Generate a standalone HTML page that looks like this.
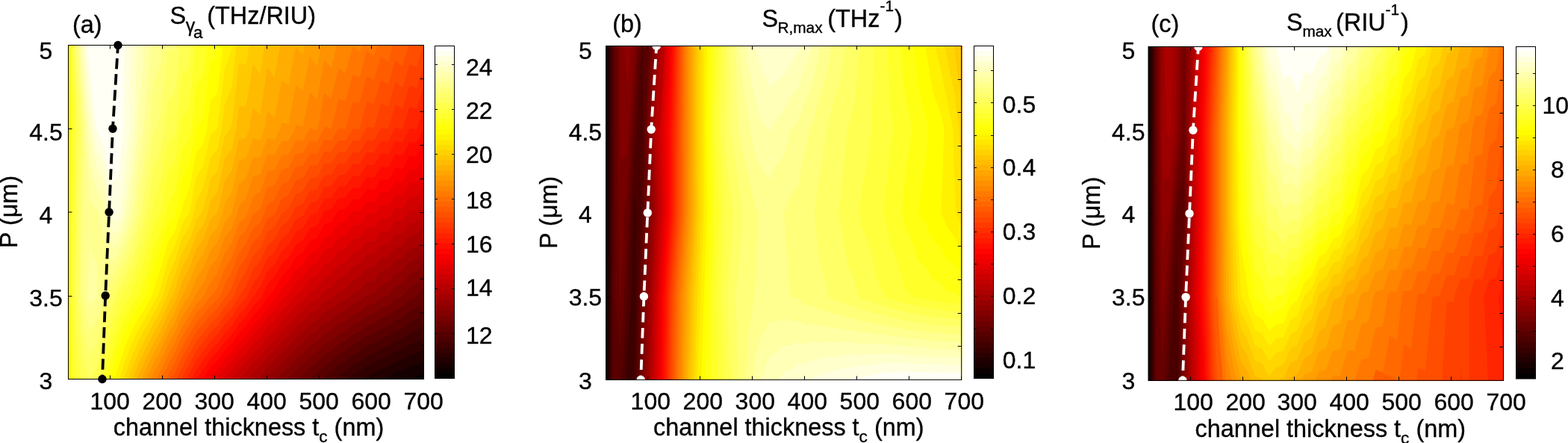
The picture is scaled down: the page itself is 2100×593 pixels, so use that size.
<!DOCTYPE html>
<html lang="en"><head><meta charset="utf-8"><title>Sensitivity maps</title>
<style>html,body{margin:0;padding:0;background:#fff}body{width:2100px;height:593px;overflow:hidden}svg{display:block}text{font-family:"Liberation Sans",Arial,Helvetica,sans-serif;font-size:32.4px;fill:#000;stroke:#000;stroke-width:0.35}</style></head><body>
<svg width="2100" height="593" viewBox="0 0 2100 593">
<defs>
<clipPath id="cla"><rect x="91.0" y="60.0" width="477.0" height="448.0"/></clipPath>
<clipPath id="clb"><rect x="811.2" y="61.0" width="477.0" height="447.9"/></clipPath>
<clipPath id="clc"><rect x="1537.7" y="62.0" width="476.3" height="447.8"/></clipPath>
</defs>
<rect width="2100" height="593" fill="#fff"/>
<g fill-rule="evenodd">
<rect x="91" y="60" width="477" height="448" fill="#070000"/>
<path fill="#140000" d="M91 508L543.8 508L548.5 505.5L558 503.9L568 499.1L568 60L91 60Z"/>
<path fill="#220000" d="M91 508L508.8 508L510.4 507L519.9 504.3L529.4 498.5L538.9 496.3L548.5 490.6L558 488.5L568 482.8L568 60L91 60Z"/>
<path fill="#300000" d="M91 508L484.3 508L491.3 502.9L500.9 499.4L510.4 493.5L519.9 490.7L529.4 484.5L538.9 482.1L548.5 475.8L558 473.2L568 466.4L568 60L91 60Z"/>
<path fill="#3d0000" d="M91 508L464.7 508L472.3 501.6L481.8 496.6L491.3 489.5L500.9 486.1L510.4 479.9L519.9 477.1L529.4 470.4L538.9 467.9L548.5 460.9L558 457.9L568 450L568 60L91 60Z"/>
<path fill="#4b0000" d="M91 508L446.9 508L453.3 502L462.8 496.2L472.3 488.2L481.8 483.4L491.3 476.1L500.9 472.9L510.4 466.4L519.9 463.5L529.4 456.4L538.9 453.6L548.5 446L558 442.6L568 433.7L568 60L91 60Z"/>
<path fill="#580000" d="M91 508L429.7 508L434.2 503.3L443.7 497.2L453.3 488.3L462.8 482.8L472.3 474.8L481.8 470.2L491.3 462.8L500.9 459.6L510.4 452.8L519.9 450L529.4 442.4L538.9 439.4L548.5 431.1L558 427.2L568 417.3L568 60L91 60Z"/>
<path fill="#660000" d="M91 508L413 508L415.2 505.7L424.7 499.1L434.2 489.2L443.7 483.4L453.3 474.6L462.8 469.4L472.3 461.4L481.8 457L491.3 449.4L500.9 446.3L510.4 439.3L519.9 436.4L529.4 428.3L538.9 425.2L548.5 416.2L558 411.9L568 400.9L568 60L91 60Z"/>
<path fill="#740000" d="M91 508L397.6 508L405.7 501.5L415.2 491.4L424.7 485.1L434.2 475.1L443.7 469.7L453.3 460.9L462.8 456.1L472.3 448L481.8 443.8L491.3 436.1L500.9 433L510.4 425.7L519.9 422.8L529.4 414.3L538.9 411L548.5 401.3L558 396.6L558.7 395.8L568 384.2L568 60L91 60Z"/>
<path fill="#810000" d="M91 508L383.8 508L386.6 505.6L396.1 494.9L405.7 487.3L415.2 477.1L424.7 471.1L434.2 461L443.7 455.9L453.3 447.2L462.8 442.7L472.3 434.6L481.8 430.6L491.3 422.7L500.9 419.8L510.4 412.2L519.9 409.2L529.4 400.2L538.9 396.8L539.9 395.8L548.5 384.9L558 380.2L568 367.4L568 60L91 60Z"/>
<path fill="#8f0000" d="M91 508L369.9 508L377.1 499.8L386.6 491.6L396.1 480.6L405.7 473.1L415.2 462.8L424.7 457.1L434.2 446.9L443.7 442.2L453.3 433.5L462.8 429.3L472.3 421.2L481.8 417.4L491.3 409.4L500.9 406.5L510.4 398.6L519.6 395.7L519.9 395.6L529.4 383.8L538.9 380.2L548.5 367.8L558 363.6L568 350.6L568 60L91 60Z"/>
<path fill="#9c0000" d="M91 508L355.7 508L358.1 505.1L367.6 497L377.1 485.9L386.6 477.6L396.1 466.3L405.7 458.9L415.2 448.5L424.7 443L434.2 432.8L443.7 428.4L453.3 419.8L462.8 415.9L472.3 407.8L481.8 404.2L491.3 396L492.2 395.8L500.9 392.4L510.4 381.6L519.9 378.5L529.4 366.2L538.9 363.3L548.5 350.6L558 347.1L568 333.8L568 60L91 60Z"/>
<path fill="#aa0000" d="M91 508L343.3 508L348.5 503.4L358.1 491.7L367.6 483.5L377.1 472L386.6 463.6L396.1 452L405.7 444.7L415.2 434.2L424.7 429L434.2 418.7L443.7 414.7L453.3 406L462.8 402.5L470.7 395.8L472.3 393.9L481.8 389.3L491.3 377.8L500.9 374.9L510.4 363.7L519.9 361.3L529.4 348.6L538.9 346.5L548.5 333.4L558 330.6L568 316.9L568 60L91 60Z"/>
<path fill="#b80000" d="M91 508L331.4 508L339 499L348.5 490.5L358.1 478.3L367.6 469.9L377.1 458.1L386.6 449.7L396.1 437.7L405.7 430.5L415.2 419.8L424.7 415L434.2 404.6L443.7 400.9L449.5 395.8L453.3 391.2L462.8 386.8L472.3 375.4L481.8 371.5L491.3 359.5L500.9 357.3L510.4 345.8L519.9 344.1L529.4 331L538.9 329.7L548.5 316.2L558 314.1L568 300.1L568 60L91 60Z"/>
<path fill="#c50000" d="M91 508L319.1 508L320 506.9L329.5 497.8L339 486.3L348.5 477.5L358.1 464.8L367.6 456.4L377.1 444.2L386.6 435.7L396.1 423.4L405.7 416.3L415.2 405.5L424.7 401L429.5 395.8L434.2 389.1L443.7 384.8L453.3 372.7L462.8 368.8L472.3 356.9L481.8 353.7L491.3 341.3L500.9 339.8L510.4 327.9L519.9 327L529.4 313.3L538.9 312.8L548.5 299L558 297.6L567.5 284L568 283.2L568 60L91 60Z"/>
<path fill="#d30000" d="M91 508L309.3 508L310.5 506.8L320 494.7L329.5 485.5L339 473.5L348.5 464.6L358.1 451.4L367.6 442.9L377.1 430.3L386.6 421.7L396.1 409.1L405.7 402.2L411.3 395.8L415.2 390.4L424.7 385.3L434.2 371.4L443.7 367.3L453.3 354.3L462.8 350.8L472.3 338.4L481.8 335.8L491.3 323L500.9 322.2L510.4 310L519.9 309.8L529.4 295.7L538.9 296L547 284L548.5 281.7L558 280.9L568 264.5L568 60L91 60Z"/>
<path fill="#e00000" d="M91 508L298.4 508L300.9 504.6L310.5 495L320 482.5L329.5 473.2L339 460.8L348.5 451.7L358.1 438L367.6 429.4L377.1 416.4L386.6 407.7L395.4 395.8L396.1 394.6L405.7 386.8L415.2 373.4L424.7 368.6L434.2 353.6L443.7 349.7L453.3 335.9L462.8 332.8L472.3 319.8L481.8 318L491.3 304.7L500.9 304.7L510.4 292.1L519.9 292.6L525.6 284L529.4 278L538.9 279L548.5 263.4L558 262.9L568 245.9L568 60L91 60Z"/>
<path fill="#ee0000" d="M91 508L289 508L291.4 505.4L300.9 492.9L310.5 483.2L320 470.3L329.5 460.9L339 448.1L348.5 438.8L358.1 424.5L367.6 415.8L377.1 402.5L384.4 395.8L386.6 393.4L396.1 377.9L405.7 370.5L415.2 356.5L424.7 351.9L434.2 335.8L443.7 332.1L453.3 317.5L462.8 314.8L472.3 301.3L481.8 300.2L491.3 286.5L500.9 287.2L503.2 284L510.4 274.5L519.9 275.4L529.4 260.2L538.9 261.4L548.5 245.2L558 244.8L568 227.2L568 60L91 60Z"/>
<path fill="#fc0000" d="M91 508L279.1 508L281.9 504L291.4 493.8L300.9 481.2L310.5 471.4L320 458.1L329.5 448.5L339 435.3L348.5 425.9L358.1 411.1L367.6 402.3L372.2 395.8L377.1 387L386.6 377.1L396.1 361.2L405.7 354.2L415.2 339.5L424.7 335.2L434.2 318.1L443.7 314.6L453.3 299.1L462.8 296.8L471.5 284L472.3 283L481.8 282.5L491.3 269.8L500.9 270.5L510.4 257.3L519.9 258.3L529.4 242.3L538.9 243.8L548.5 226.9L558 226.8L568 208.6L568 60L91 60Z"/>
<path fill="#ff0a00" d="M91 508L271 508L272.4 506L281.9 492.1L291.4 482.2L300.9 469.4L310.5 459.6L320 445.9L329.5 436.2L339 422.6L348.5 413L358.1 397.7L360.1 395.8L367.6 387.2L377.1 370.1L386.6 360.8L396.1 344.5L405.7 337.9L415.2 322.6L424.7 318.5L434.2 300.3L443.7 297L451.4 284L453.3 281.2L462.8 279.6L472.3 267.3L481.8 266.8L491.3 253.3L500.9 254L510.4 240L519.9 241.1L529.4 224.5L538.9 226.2L548.5 208.6L558 208.8L568 189.9L568 60L91 60Z"/>
<path fill="#ff1800" d="M91 508L262.6 508L262.9 507.6L272.4 493.9L281.9 480.2L291.4 470.7L300.9 457.7L310.5 447.8L320 433.7L329.5 423.9L339 409.9L348.5 400.1L351.2 395.8L358.1 380.8L367.6 370.5L377.1 353.3L386.6 344.5L396.1 327.7L405.7 321.6L415.2 305.6L424.7 301.8L433.5 284L434.2 282.7L443.7 280L453.3 265.7L462.8 264.3L472.3 251.5L481.8 251L491.3 236.9L500.9 237.5L510.4 222.8L519.9 224L529.4 206.6L538.9 208.6L548.5 190.4L558 190.8L567.5 172.2L568 170.8L568 60L91 60Z"/>
<path fill="#ff2500" d="M91 508L256.2 508L262.9 494.9L272.4 481.9L281.9 468.3L291.4 459.1L300.9 446L310.5 436.1L320 421.5L329.5 411.6L339 397.1L340.4 395.8L348.5 384.3L358.1 363.3L367.6 353.9L377.1 336.4L386.6 328.1L396.1 311L405.7 305.2L415.2 288.6L424.7 285.1L425.2 284L434.2 266.7L443.7 264.7L453.3 250.2L462.8 249L472.3 235.8L481.8 235.3L491.3 220.4L500.9 221L510.4 205.5L519.9 206.8L529.4 188.8L538.9 190.9L548.4 172.2L548.5 172.1L550.2 172.2L558 172.8L558.3 172.2L568 142.7L568 60L91 60Z"/>
<path fill="#ff3300" d="M91 508L249.4 508L253.3 500.8L262.9 482.2L272.4 469.8L281.9 456.5L291.4 447.5L300.9 434.2L310.5 424.3L320 409.3L329.5 399.3L331.8 395.8L339 379.3L348.5 367L358.1 345.9L367.6 337.2L377.1 319.5L386.6 311.8L396.1 294.3L405.7 288.9L408.5 284L415.2 271.9L424.7 269.2L434.2 250.8L443.7 249.3L453.3 234.6L462.8 233.7L472.3 220L481.8 219.6L491.3 204L500.9 204.5L510.4 188.3L519.9 189.7L528.8 172.2L529.4 170L534.7 172.2L538.9 173.3L539.5 172.2L548.5 143.4L558 145.4L568 114.6L568 60L91 60Z"/>
<path fill="#ff4100" d="M91 508L242.5 508L243.8 505.1L253.3 487.7L262.9 469.6L272.4 457.7L281.9 444.6L291.4 436L300.9 422.5L310.5 412.5L320 397.1L321.3 395.8L329.5 382.5L339 360.8L348.5 349.8L358.1 328.4L367.6 320.6L377.1 302.6L386.6 295.5L392.8 284L396.1 277.2L405.7 272.3L415.2 255.2L424.7 253.3L434.2 234.8L443.7 234L453.3 219.1L462.8 218.4L472.3 204.3L481.8 203.8L491.3 187.5L500.9 188L509.7 172.2L510.4 170.1L518.2 172.2L519.9 172.5L520 172.2L529.4 140.1L538.9 145.6L548.5 114.7L558 117.8L568 86.5L568 60L91 60Z"/>
<path fill="#ff4e00" d="M91 508L236.3 508L243.8 491.5L253.3 474.6L262.9 456.9L272.4 445.7L281.9 432.7L291.4 424.4L300.9 410.8L310.5 400.7L313.5 395.8L320 378.1L329.5 363.9L339 342.4L348.5 332.5L358.1 310.9L367.6 303.9L377.1 285.7L379.5 284L386.6 278.6L396.1 259.4L405.7 255.4L415.2 238.5L424.7 237.5L434.2 218.9L443.7 218.6L453.3 203.6L462.8 203.2L472.3 188.5L481.8 188.1L490.7 172.2L491.3 169.8L500.9 170.9L510.4 138.6L519.9 143L529.4 110.3L538.9 117.2L548.5 86L558 90.2L567.5 60L91 60Z"/>
<path fill="#ff5c00" d="M91 508L229.2 508L234.3 498.8L243.8 477.9L253.3 461.6L262.9 444.2L272.4 433.6L281.9 420.9L291.4 412.9L300.9 399.1L304 395.8L310.5 384.3L320 358.3L329.5 345.4L339 323.9L348.5 315.3L358.1 293.5L367.6 287.3L369.3 284L377.1 266.6L386.6 260.5L396.1 241.6L405.7 238.6L415.2 221.8L424.7 221.6L434.2 202.9L443.7 203.3L453.3 188L462.8 187.9L472.3 172.8L481.8 172.4L481.9 172.2L491.3 135.8L500.9 139.2L510.4 107.2L519.9 113.3L529.4 80.5L538.9 88.8L547.6 60L91 60ZM553.4 60L558 62.5L558.8 60Z"/>
<path fill="#ff6900" d="M91 508L222.1 508L224.8 502.5L234.3 485.3L243.8 464.2L253.3 448.5L262.9 431.6L272.4 421.5L281.9 409L291.4 401.3L295.2 395.8L300.9 380.8L310.5 364.6L320 338.4L329.5 326.8L339 305.4L348.5 298L354.6 284L358.1 273.9L367.6 267.8L377.1 247.2L386.6 242.4L396.1 223.8L405.7 221.8L415.2 205.1L424.7 205.7L434.2 187L443.7 187.9L453.3 172.5L462.8 172.6L463 172.2L472.3 136.4L481.8 138.1L491.3 101.9L500.9 107.5L510.4 75.7L519.9 83.6L526.7 60L91 60ZM538.5 60L538.9 60.4L539.1 60Z"/>
<path fill="#ff7700" d="M91 508L215.6 508L224.8 489L234.3 471.8L243.8 450.6L253.3 435.5L262.9 418.9L272.4 409.5L281.9 397.1L283.6 395.8L291.4 385.2L300.9 359.9L310.5 344.9L320 318.5L329.5 308.3L339 286.9L343.4 284L348.5 279.7L358.1 251.7L367.6 247.7L377.1 227.8L386.6 224.4L396.1 206L405.7 204.9L415.2 188.5L424.7 189.9L433.6 172.2L434.2 168.9L441.7 172.2L443.7 172.6L443.9 172.2L453.3 132.1L462.8 135.4L472.3 99.4L481.8 103.8L491.3 68L500.9 75.8L505.6 60L91 60Z"/>
<path fill="#ff8500" d="M91 508L208.5 508L215.3 495.4L224.8 475.5L234.3 458.2L243.8 437L253.3 422.4L262.9 406.2L272.4 397.4L273.6 395.8L281.9 377.4L291.4 365L300.9 339L310.5 325.3L320 298.7L329.5 289.7L332.1 284L339 262.4L348.5 256.7L358.1 229.4L367.6 227.6L377.1 208.4L386.6 206.3L396.1 188.2L405.7 188.1L414.9 172.2L415.2 170.9L417.1 172.2L424.7 174L425.6 172.2L434.2 124.4L443.7 132L453.3 91.3L462.8 97.6L472.3 62.3L481.8 69.4L484.3 60L91 60Z"/>
<path fill="#ff9200" d="M91 508L201.8 508L205.7 499.7L215.3 482.2L224.8 462L234.3 444.7L243.8 423.4L253.3 409.3L261.5 395.7L262.9 392.3L272.4 378.9L281.9 356.6L291.4 344.8L300.9 318.2L310.5 305.6L318.2 284L320 276.2L329.5 265.4L339 236.6L348.5 233.7L358.1 207.2L367.6 207.4L377.1 189L386.6 188.2L395.2 172.2L396.1 166.9L405.7 169.5L415.2 123L424.7 133.2L434.2 79.9L443.7 90.8L451 60L91 60Z"/>
<path fill="#ffa000" d="M91 508L195.5 508L196.2 506.3L205.7 486.3L215.3 468.9L224.8 448.5L234.3 431.2L243.8 409.8L253.3 396.3L253.7 395.8L262.9 372.8L272.4 359.3L281.9 335.8L291.4 324.6L300.9 297.3L310.5 285.9L311.1 284L320 246.4L329.5 238.5L339 210.9L348.5 210.6L358.1 185L367.6 187.3L375.7 172.2L377.1 164.6L386.6 165.9L396.1 114.3L405.7 121.3L415.2 75.1L424.7 89.3L429.9 60L91 60Z"/>
<path fill="#ffad00" d="M91 508L189.2 508L196.2 492.4L205.7 472.9L215.3 455.7L224.8 435L234.3 417.7L243.8 396.1L244.1 395.8L253.3 378L262.9 353.2L272.4 339.8L281.9 315L291.4 304.4L298.4 284L300.9 273.1L310.5 257.4L320 216.6L329.5 211.7L339 185.1L348.5 187.6L354.4 172.2L358.1 147.8L367.6 158.5L377.1 107.8L386.6 113.2L396.1 61.7L405.7 73.1L408.4 60L91 60Z"/>
<path fill="#ffbb00" d="M91 508L183.1 508L186.7 499L196.2 478.5L205.7 459.5L215.3 442.5L224.8 421.5L234.3 404.2L238 395.8L243.8 377L253.3 359.5L262.9 333.6L272.4 320.3L281.9 294.3L291.4 284.2L291.5 284L300.9 242.8L310.5 227.9L320 186.8L329.5 184.8L334.1 172.2L339 143.3L348.5 154.2L358.1 90.1L367.6 103.5L375.5 60L91 60ZM386.2 60L386.6 60.4L386.7 60Z"/>
<path fill="#ffc900" d="M91 508L177.2 508L177.2 507.9L186.7 484.1L196.2 464.6L205.7 446.1L215.3 429.3L224.8 408L231.5 395.8L234.3 388.3L243.8 357.7L253.3 341.1L262.9 314L272.4 300.8L278.4 284L281.9 269.1L291.4 256L300.9 212.5L310.5 198.5L316.5 172.2L320 142.6L329.5 142.6L339 85.2L348.5 99.7L354.3 60L91 60Z"/>
<path fill="#ffd600" d="M91 508L171.3 508L177.2 491.4L186.7 469.1L196.2 450.7L205.7 432.6L215.3 416L224.2 395.8L224.8 393.6L234.3 368.5L243.8 338.4L253.3 322.6L262.9 294.5L270.4 284L272.4 279.9L281.9 239.8L291.4 227.7L300.9 182.2L308.1 172.2L310.5 166.7L320 84.8L329.5 86.9L333.9 60L91 60Z"/>
<path fill="#ffe400" d="M91 508L165.5 508L167.7 501L177.2 474.8L186.7 454.2L196.2 436.9L205.7 419.2L215.3 402.8L218.4 395.8L224.8 370.7L234.3 348.8L243.8 319.1L253.3 304.1L260 284L262.9 269L272.4 250.7L281.9 210.4L291.4 199.4L297 172.2L300.9 140.1L310.5 116L316.7 60L91 60Z"/>
<path fill="#fff100" d="M91 508L159.6 508L167.7 482.3L177.2 458.3L186.7 439.2L196.2 423L205.7 405.8L211.6 395.8L215.3 384.1L224.8 347.9L234.3 329L243.8 299.8L253.3 285.6L253.9 284L262.9 236.7L272.4 221.6L281.9 181L290.3 172.2L291.4 170.4L300.9 92.3L310.5 65.2L311 60L91 60Z"/>
<path fill="#ffff00" d="M91 508L153.6 508L158.1 492L167.7 463.6L177.2 441.7L186.7 424.3L196.2 409.1L203.8 395.8L205.7 388.7L215.3 359.2L224.8 325L234.3 309.2L242.6 284L243.8 277.2L253.3 253.7L262.9 204.5L272.4 192.5L277.1 172.2L281.9 135L291.4 123.9L299.1 60L91 60Z"/>
<path fill="#ffff14" d="M92.2 508L147.7 508L148.6 503.8L158.1 470.9L167.7 445L177.2 425.2L186.7 409.3L195.8 395.8L196.2 394.6L205.7 360.7L215.3 334.3L224.8 302.2L234.3 289.4L236.1 284L243.8 239.6L253.3 220.6L262.9 172.3L262.9 172.2L272.4 155.6L281.9 81.9L291.4 77.3L293.5 60L91 60L91 75.7L92 172.2L91 268.4L91 411.5Z"/>
<path fill="#ffff29" d="M96.4 508L142.7 508L148.6 481.1L158.1 449.7L167.7 426.3L177.2 408.6L185.7 395.8L186.7 393.5L196.2 367.4L205.7 332.8L215.3 309.4L223.2 284L224.8 275.4L234.3 256.1L243.8 202L253.3 187.5L256.3 172.2L262.9 113.5L272.4 101.2L277.7 60L93.1 60L95.6 172.2L94 284L93.7 395.8Z"/>
<path fill="#ffff3d" d="M100.5 508L137.5 508L139.1 500.5L148.6 458.4L158.1 428.6L167.7 407.6L174.7 395.8L177.2 391.2L186.7 369.1L196.2 340.2L205.7 304.8L215.3 284.4L215.4 284L224.8 233.2L234.3 217.8L242.4 172.2L243.8 160L253.3 141.9L262.3 60L95.3 60L99.1 172.2L97.2 284L96.5 395.8Z"/>
<path fill="#ffff52" d="M99.3 395.8L101 440.8L107.5 508L132 508L139.1 474.7L148.6 435.7L158.1 407.5L163.9 395.8L167.7 389.2L177.2 370.6L186.7 344.6L196.2 312.9L203.9 284L205.7 272.3L215.3 243L224.8 191.1L234.3 179.5L235.6 172.2L243.8 101L253.3 85.9L256.2 60L97.5 60L101 147.6L102.4 172.2L101 248.8L100.4 284Z"/>
<path fill="#ffff66" d="M102.6 395.8L110.5 482.7L118.9 508L121.2 508L129.6 490.5L139.1 449L148.6 413L154.6 395.8L158.1 388.8L167.7 371.5L177.2 350.1L186.7 320.2L196.2 285.7L196.7 284L205.7 226.9L215.3 201.2L220.6 172.2L224.8 135.9L234.3 125.3L241.8 60L99.7 60L101 93.4L105.6 172.2L103.8 284Z"/>
<path fill="#ffff7a" d="M106.5 395.8L110.5 439.9L120.1 477.3L129.6 459.8L139.1 423.2L146.9 395.8L148.6 391.1L158.1 373L167.7 353.7L177.2 329.5L186.7 295.7L189.9 284L196.2 240.4L205.7 181.6L209.6 172.2L215.3 151.6L224.8 70L234.3 67.3L235.1 60L101.8 60L108.7 172.2L107.2 284Z"/>
<path fill="#ffff8f" d="M110.4 395.8L110.5 397.2L120.1 443.9L129.6 429.1L139.1 397.4L139.6 395.8L148.6 371.8L158.1 357.3L167.7 335.9L177.2 308.9L183.8 284L186.7 258.7L196.2 193.8L199.7 172.2L205.7 112.2L215.3 84.6L218.1 60L104 60L110.5 159.2L111.7 172.2L111.2 284L110.5 353.1Z"/>
<path fill="#ffffa3" d="M117.1 395.8L120.1 410.5L129.6 398.5L130.4 395.8L129.6 352.8L120.1 331.2ZM131.9 284L139.1 319.5L148.6 352.4L158.1 341.5L167.7 318.1L177.2 288.4L178.3 284L186.7 210.2L192.4 172.2L196.2 127L203.1 60L106.1 60L110.5 126.7L114.5 172.2L120.1 268.2L129.6 280.2Z"/>
<path fill="#ffffb8" d="M140.8 284L148.6 333.1L158.1 325.8L167.7 300.3L172.8 284L177.2 245.1L185.5 172.2L186.7 145.1L194 60L108.3 60L110.5 94.3L117.3 172.2L120.1 219.3L129.6 253.7L139.1 270Z"/>
<path fill="#ffffcc" d="M143.9 284L148.6 313.7L158.1 310L167.2 284L167.7 279.3L177.2 195.8L179.9 172.2L183.7 60L110.4 60L110.5 61.8L120.1 170.7L120.2 172.2L129.6 227.3L139.1 245.3Z"/>
<path fill="#ffffe0" d="M147 284L148.6 294.4L158.1 294.3L161.7 284L167.7 221.8L173.6 172.2L174.9 60L113.8 60L120.1 131L124.7 172.2L129.6 200.8L139.1 220.6Z"/>
<path fill="#fffff5" d="M129.2 172.2L129.6 174.3L139.1 195.9L148.6 245.7L158.1 237.6L165.5 172.2L166.9 60L117.3 60L120.1 91.3Z"/>
</g>
<rect x="582.5" y="500" width="26.0" height="6" fill="#000000"/>
<rect x="582.5" y="493" width="26.0" height="7" fill="#0b0000"/>
<rect x="582.5" y="486" width="26.0" height="7" fill="#160000"/>
<rect x="582.5" y="479" width="26.0" height="7" fill="#200000"/>
<rect x="582.5" y="472" width="26.0" height="7" fill="#2b0000"/>
<rect x="582.5" y="465" width="26.0" height="7" fill="#360000"/>
<rect x="582.5" y="458" width="26.0" height="7" fill="#410000"/>
<rect x="582.5" y="451" width="26.0" height="7" fill="#4c0000"/>
<rect x="582.5" y="444" width="26.0" height="7" fill="#560000"/>
<rect x="582.5" y="437" width="26.0" height="7" fill="#610000"/>
<rect x="582.5" y="430" width="26.0" height="7" fill="#6c0000"/>
<rect x="582.5" y="423" width="26.0" height="7" fill="#770000"/>
<rect x="582.5" y="416" width="26.0" height="7" fill="#820000"/>
<rect x="582.5" y="409" width="26.0" height="7" fill="#8c0000"/>
<rect x="582.5" y="402" width="26.0" height="7" fill="#970000"/>
<rect x="582.5" y="395" width="26.0" height="7" fill="#a20000"/>
<rect x="582.5" y="388" width="26.0" height="7" fill="#ad0000"/>
<rect x="582.5" y="381" width="26.0" height="7" fill="#b70000"/>
<rect x="582.5" y="374" width="26.0" height="7" fill="#c20000"/>
<rect x="582.5" y="367" width="26.0" height="7" fill="#cd0000"/>
<rect x="582.5" y="360" width="26.0" height="7" fill="#d80000"/>
<rect x="582.5" y="354" width="26.0" height="6" fill="#e30000"/>
<rect x="582.5" y="347" width="26.0" height="7" fill="#ed0000"/>
<rect x="582.5" y="340" width="26.0" height="7" fill="#f80000"/>
<rect x="582.5" y="333" width="26.0" height="7" fill="#ff0400"/>
<rect x="582.5" y="326" width="26.0" height="7" fill="#ff0f00"/>
<rect x="582.5" y="319" width="26.0" height="7" fill="#ff1a00"/>
<rect x="582.5" y="312" width="26.0" height="7" fill="#ff2400"/>
<rect x="582.5" y="305" width="26.0" height="7" fill="#ff2f00"/>
<rect x="582.5" y="298" width="26.0" height="7" fill="#ff3a00"/>
<rect x="582.5" y="291" width="26.0" height="7" fill="#ff4500"/>
<rect x="582.5" y="284" width="26.0" height="7" fill="#ff5000"/>
<rect x="582.5" y="277" width="26.0" height="7" fill="#ff5a00"/>
<rect x="582.5" y="270" width="26.0" height="7" fill="#ff6500"/>
<rect x="582.5" y="263" width="26.0" height="7" fill="#ff7000"/>
<rect x="582.5" y="256" width="26.0" height="7" fill="#ff7b00"/>
<rect x="582.5" y="249" width="26.0" height="7" fill="#ff8600"/>
<rect x="582.5" y="242" width="26.0" height="7" fill="#ff9000"/>
<rect x="582.5" y="235" width="26.0" height="7" fill="#ff9b00"/>
<rect x="582.5" y="228" width="26.0" height="7" fill="#ffa600"/>
<rect x="582.5" y="221" width="26.0" height="7" fill="#ffb100"/>
<rect x="582.5" y="214" width="26.0" height="7" fill="#ffbc00"/>
<rect x="582.5" y="208" width="26.0" height="6" fill="#ffc600"/>
<rect x="582.5" y="201" width="26.0" height="7" fill="#ffd100"/>
<rect x="582.5" y="194" width="26.0" height="7" fill="#ffdc00"/>
<rect x="582.5" y="187" width="26.0" height="7" fill="#ffe700"/>
<rect x="582.5" y="180" width="26.0" height="7" fill="#fff200"/>
<rect x="582.5" y="173" width="26.0" height="7" fill="#fffc00"/>
<rect x="582.5" y="166" width="26.0" height="7" fill="#ffff0c"/>
<rect x="582.5" y="159" width="26.0" height="7" fill="#ffff1c"/>
<rect x="582.5" y="152" width="26.0" height="7" fill="#ffff2d"/>
<rect x="582.5" y="145" width="26.0" height="7" fill="#ffff3d"/>
<rect x="582.5" y="138" width="26.0" height="7" fill="#ffff4d"/>
<rect x="582.5" y="131" width="26.0" height="7" fill="#ffff5d"/>
<rect x="582.5" y="124" width="26.0" height="7" fill="#ffff6d"/>
<rect x="582.5" y="117" width="26.0" height="7" fill="#ffff7d"/>
<rect x="582.5" y="110" width="26.0" height="7" fill="#ffff8e"/>
<rect x="582.5" y="103" width="26.0" height="7" fill="#ffff9e"/>
<rect x="582.5" y="96" width="26.0" height="7" fill="#ffffae"/>
<rect x="582.5" y="89" width="26.0" height="7" fill="#ffffbe"/>
<rect x="582.5" y="82" width="26.0" height="7" fill="#ffffce"/>
<rect x="582.5" y="75" width="26.0" height="7" fill="#ffffdf"/>
<rect x="582.5" y="68" width="26.0" height="7" fill="#ffffef"/>
<rect x="582.5" y="62" width="26.0" height="6" fill="#ffffff"/>
<rect x="582.5" y="61.5" width="26.0" height="445.0" fill="none" stroke="#000" stroke-width="1"/>
<path d="M582.5 86.5h3.5M608.5 86.5h-3.5M582.5 146.5h3.5M608.5 146.5h-3.5M582.5 206.5h3.5M608.5 206.5h-3.5M582.5 266.5h3.5M608.5 266.5h-3.5M582.5 326.5h3.5M608.5 326.5h-3.5M582.5 386.5h3.5M608.5 386.5h-3.5M582.5 446.5h3.5M608.5 446.5h-3.5" stroke="#000" stroke-width="1"/>
<text x="641.70" y="100.50" text-anchor="middle" style="font-size:32px">24</text>
<text x="641.70" y="158.80" text-anchor="middle" style="font-size:32px">22</text>
<text x="641.70" y="217.50" text-anchor="middle" style="font-size:32px">20</text>
<text x="641.70" y="279.00" text-anchor="middle" style="font-size:32px">18</text>
<text x="641.70" y="338.00" text-anchor="middle" style="font-size:32px">16</text>
<text x="641.70" y="395.70" text-anchor="middle" style="font-size:32px">14</text>
<text x="641.70" y="460.00" text-anchor="middle" style="font-size:32px">12</text>
<text x="147.20" y="548.20" text-anchor="middle" style="font-size:32px">100</text>
<text x="217.20" y="548.20" text-anchor="middle" style="font-size:32px">200</text>
<text x="287.20" y="548.20" text-anchor="middle" style="font-size:32px">300</text>
<text x="357.20" y="548.20" text-anchor="middle" style="font-size:32px">400</text>
<text x="427.20" y="548.20" text-anchor="middle" style="font-size:32px">500</text>
<text x="497.20" y="548.20" text-anchor="middle" style="font-size:32px">600</text>
<text x="567.20" y="548.20" text-anchor="middle" style="font-size:32px">700</text>
<text x="61.50" y="79.30" text-anchor="middle" style="font-size:32px">5</text>
<text x="61.50" y="188.20" text-anchor="middle" style="font-size:32px">4.5</text>
<text x="61.50" y="299.00" text-anchor="middle" style="font-size:32px">4</text>
<text x="61.50" y="410.00" text-anchor="middle" style="font-size:32px">3.5</text>
<text x="61.50" y="521.30" text-anchor="middle" style="font-size:32px">3</text>
<path d="M147.5 507.5v-5M147.5 60.5v5M217.5 507.5v-5M217.5 60.5v5M287.5 507.5v-5M287.5 60.5v5M357.5 507.5v-5M357.5 60.5v5M427.5 507.5v-5M427.5 60.5v5M497.5 507.5v-5M497.5 60.5v5M567.5 507.5v-5M567.5 60.5v5M91.5 60.5h5M91.5 172.5h5M91.5 284.0h5M91.5 396.5h5M91.5 507.5h5M567.5 105.5h-5M567.5 149.5h-5M567.5 194.5h-5M567.5 239.5h-5M567.5 284.5h-5M567.5 328.5h-5M567.5 373.5h-5M567.5 418.5h-5M567.5 462.5h-5" stroke="#000" stroke-width="1" fill="none"/>
<g>
<polyline points="158.0,60.5 151.0,172.2 146.1,284.0 141.2,395.8 137.0,507.5" fill="none" stroke="#000" stroke-width="3.8" stroke-dasharray="14.4 6.8" stroke-dashoffset="3.6"/>
<circle cx="158.0" cy="60.5" r="5.7" fill="#000"/>
<circle cx="151.0" cy="172.2" r="5.7" fill="#000"/>
<circle cx="146.1" cy="284.0" r="5.7" fill="#000"/>
<circle cx="141.2" cy="395.8" r="5.7" fill="#000"/>
<circle cx="137.0" cy="507.5" r="5.7" fill="#000"/>
</g>
<rect x="91.5" y="60.5" width="476.0" height="447.0" fill="none" stroke="#000" stroke-width="1"/>
<text x="333.00" y="582.50" text-anchor="middle">channel thickness t<tspan font-size="22.6" dy="9">c</tspan><tspan dy="-9"> (nm)</tspan></text>
<text transform="translate(23.40 283.50) rotate(-90)" text-anchor="middle">P (μm)</text>
<text x="97.00" y="44.00">(a)</text>
<text x="227.40" y="31.70">S</text>
<text x="248.80" y="42.50" style="font-size:25px">γ</text>
<text x="259.00" y="51.40" style="font-size:22.4px">a</text>
<text x="277.30" y="31.70">(THz/RIU)</text>
<g fill-rule="evenodd">
<rect x="811.2" y="61" width="477" height="447.9" fill="#070000"/>
<path fill="#140000" d="M812.7 508.9L1288.2 508.9L1288.2 61L812.8 61L812.8 173.2L812.8 284.9L812.7 396.7Z"/>
<path fill="#220000" d="M814.2 508.9L1288.2 508.9L1288.2 61L814.4 61L814.4 173.2L814.4 284.9L814.2 396.7Z"/>
<path fill="#300000" d="M815.7 508.9L1288.2 508.9L1288.2 61L816 61L816 173.2L816 284.9L815.8 396.7Z"/>
<path fill="#3d0000" d="M817.2 508.9L1288.2 508.9L1288.2 61L817.6 61L817.6 173.2L817.6 284.9L817.3 396.7Z"/>
<path fill="#4b0000" d="M818.7 508.9L837.1 508.9L840.3 464.4L845.3 396.7L848.2 284.9L849.8 256.8L852.9 284.9L852 396.7L850 508.9L1288.2 508.9L1288.2 61L819.2 61L819.2 173.2L819.2 284.9L818.8 396.7ZM859.3 196.5L857.8 173.2L859.3 147L859.9 173.2Z"/>
<path fill="#580000" d="M820.2 508.9L832.4 508.9L840.3 398.9L840.4 396.7L845 284.9L849.8 200.7L852.4 173.2L859 61L820.8 61L820.8 173.2L820.7 284.9L820.3 396.7ZM852.7 508.9L1288.2 508.9L1288.2 61L860.6 61L862 173.2L859.3 281L859 284.9L854.5 396.7Z"/>
<path fill="#660000" d="M823.7 396.7L830.7 469L836 396.7L840.3 321.4L841.8 284.9L848.2 173.2L849.8 154.4L856.4 61L823.6 61L823.6 173.2L824 284.9ZM855.5 508.9L1288.2 508.9L1288.2 61L869.7 61L868.8 76.3L864.1 173.2L862.2 284.9L859.3 340.5L856.9 396.7Z"/>
<path fill="#740000" d="M829.6 396.7L830.7 408L831.6 396.7L836.1 284.9L840.3 257.5L845.2 173.2L849.8 117.3L853.8 61L826.7 61L826.8 173.2L828 284.9ZM858.2 508.9L1288.2 508.9L1288.2 61L872.3 61L868.8 119.4L866.2 173.2L865.3 284.9L859.4 396.7L859.3 405.9Z"/>
<path fill="#810000" d="M860.9 508.9L1288.2 508.9L1288.2 61L874.9 61L868.8 162.5L868.3 173.2L868.4 284.9L862.6 396.7ZM830.1 173.2L830.7 215.1L840.3 205.8L842.2 173.2L849.8 80.2L851.1 61L829.8 61Z"/>
<path fill="#8f0000" d="M863.6 508.9L1288.2 508.9L1288.2 61L877.5 61L870.6 173.2L871.3 284.9L868.8 337.3L865.8 396.7ZM836.3 61L840.3 125.6L845.1 61Z"/>
<path fill="#9c0000" d="M866.3 508.9L1288.2 508.9L1288.2 61L880.1 61L878.3 86.9L873 173.2L874.3 284.9L868.9 396.7L868.8 400.9Z"/>
<path fill="#aa0000" d="M869 508.9L1288.2 508.9L1288.2 61L882.7 61L878.3 125.5L875.4 173.2L877.2 284.9L871.5 396.7Z"/>
<path fill="#b80000" d="M871.6 508.9L1288.2 508.9L1288.2 61L885.3 61L878.3 164.2L877.8 173.2L878.3 204L880 284.9L878.3 315.1L874.1 396.7Z"/>
<path fill="#c50000" d="M874.2 508.9L1288.2 508.9L1288.2 61L880.7 173.2L882.8 284.9L878.3 364.2L876.6 396.7Z"/>
<path fill="#d30000" d="M876.9 508.9L1288.2 508.9L1288.2 61L890.3 61L887.9 108.7L883.7 173.2L885.6 284.9L879.1 396.7L878.3 439Z"/>
<path fill="#e00000" d="M879.5 508.9L1288.2 508.9L1288.2 61L892.8 61L887.9 156.3L886.8 173.2L887.9 249.1L888.3 284.9L887.9 291.4L881.5 396.7Z"/>
<path fill="#ee0000" d="M882 508.9L1288.2 508.9L1288.2 61L895.3 61L889.9 173.2L890.9 284.9L887.9 329.7L883.8 396.7Z"/>
<path fill="#fc0000" d="M884.6 508.9L1288.2 508.9L1288.2 61L897.7 61L897.4 71.1L893 173.2L893.5 284.9L887.9 368L886.1 396.7Z"/>
<path fill="#ff0a00" d="M887.1 508.9L1288.2 508.9L1288.2 61L899.7 61L897.4 143.6L896.1 173.2L896.2 284.9L888.5 396.7L887.9 448.2Z"/>
<path fill="#ff1800" d="M889.5 508.9L1288.2 508.9L1288.2 61L901.8 61L898.8 173.2L898.7 284.9L897.4 303L890.8 396.7Z"/>
<path fill="#ff2500" d="M891.9 508.9L1288.2 508.9L1288.2 61L903.8 61L901.2 173.2L901 284.9L897.4 336.7L893.2 396.7Z"/>
<path fill="#ff3300" d="M894.3 508.9L1288.2 508.9L1288.2 61L905.9 61L903.7 173.2L903.4 284.9L897.4 370.3L895.5 396.7Z"/>
<path fill="#ff4100" d="M896.6 508.9L1288.2 508.9L1288.2 61L907.9 61L906.9 128.9L906.1 173.2L905.8 284.9L897.9 396.7L897.4 442Z"/>
<path fill="#ff4e00" d="M899.1 508.9L1288.2 508.9L1288.2 61L909.9 61L908.5 173.2L908.2 284.9L906.9 303.8L900.4 396.7Z"/>
<path fill="#ff5c00" d="M901.5 508.9L1288.2 508.9L1288.2 61L911.9 61L910.9 173.2L910.7 284.9L906.9 339.1L902.9 396.7Z"/>
<path fill="#ff6900" d="M904 508.9L1288.2 508.9L1288.2 61L913.9 61L913.3 173.2L913.1 284.9L906.9 374.3L905.3 396.7Z"/>
<path fill="#ff7700" d="M906.4 508.9L1288.2 508.9L1288.2 61L915.9 61L915.7 173.2L915.6 284.9L908 396.7L906.9 470.9Z"/>
<path fill="#ff8500" d="M909.2 508.9L1288.2 508.9L1288.2 61L918.4 61L918.3 173.2L918.3 284.9L916.4 314.3L910.9 396.7Z"/>
<path fill="#ff9200" d="M912.1 508.9L1288.2 508.9L1288.2 61L921.1 61L921.1 173.2L921.1 285L916.4 358.7L913.9 396.7Z"/>
<path fill="#ffa000" d="M914.9 508.9L1288.2 508.9L1288.2 61L923.8 61L923.8 173.2L924 284.9L916.9 396.7L916.4 421.3Z"/>
<path fill="#ffad00" d="M917.9 508.9L1288.2 508.9L1288.2 61L926.6 61L926.6 173.2L926.9 284.9L925.9 302.1L920.2 396.7Z"/>
<path fill="#ffbb00" d="M921 508.9L1288.2 508.9L1288.2 61L929.6 61L929.4 173.2L929.8 284.9L925.9 356.8L923.5 396.7Z"/>
<path fill="#ffc900" d="M924 508.9L1288.2 508.9L1288.2 64.5L1287.7 61L932.6 61L932.3 173.2L932.7 284.9L926.9 396.7L925.9 430.6Z"/>
<path fill="#ffd600" d="M927.3 508.9L1288.2 508.9L1288.2 139.3L1278.2 64.7L1277.4 61L935.7 61L935.5 93.2L935.1 173.2L935.5 254.5L935.6 284.9L935.5 288.8L930.5 396.7Z"/>
<path fill="#ffe400" d="M930.8 508.9L1288.2 508.9L1288.2 234.2L1284.2 173.2L1278.2 124.1L1268.7 79.3L1265 61L939.4 61L938.5 173.2L939.3 284.9L935.5 366.7L934.1 396.7Z"/>
<path fill="#fff100" d="M934.3 508.9L1288.2 508.9L1288.2 302.4L1280.2 284.9L1278.2 235.9L1276.3 173.2L1268.7 134.5L1259.1 88.9L1252 61L943.1 61L941.9 173.2L942.9 284.9L938.3 396.7L935.5 470Z"/>
<path fill="#ffff00" d="M939.2 508.9L1288.2 508.9L1288.2 334.3L1278.2 317.1L1268.7 304.4L1260.4 284.9L1264.6 173.2L1259.1 149.5L1249.6 123.9L1240.1 65.9L1239.2 61L947 61L945.4 173.2L946.9 284.9L945 338.2L942.9 396.7Z"/>
<path fill="#ffff14" d="M944.8 508.9L1288.2 508.9L1288.2 366.2L1278.2 354.2L1268.7 347.3L1259.1 330L1249.6 322.2L1240.1 300.7L1230.6 286.8L1230 284.9L1230.6 278.5L1240.1 214.6L1243.2 173.2L1240.1 158.3L1230.6 118.9L1223.4 61L951.1 61L949.5 173.2L951.4 284.9L947.7 396.7L945 501.6Z"/>
<path fill="#ffff29" d="M951.9 508.9L1288.2 508.9L1288.2 397.1L1285.7 396.7L1278.2 391.4L1268.7 390.2L1259.1 378.2L1249.6 374.9L1240.1 357.8L1230.6 349.8L1221.1 322.9L1211.5 300.6L1208.2 284.9L1211.5 246.1L1221.1 176.7L1221.4 173.2L1221.1 171L1211.5 119.8L1205.9 61L955.4 61L954.5 104.4L953.5 173.2L954.5 224.4L956.4 284.9L954.5 338.8L952.9 396.7Z"/>
<path fill="#ffff3d" d="M961.1 508.9L1288.2 508.9L1288.2 407.3L1278.2 405.5L1268.7 405.5L1259.1 403.2L1249.6 402.9L1240.1 400.2L1230.6 399.5L1221.6 396.7L1221.1 395.4L1211.5 386.1L1202 349.7L1192.5 325.4L1183.8 284.9L1192.5 200L1196.7 173.2L1192.5 140.5L1188 61L960.7 61L958.5 173.2L962.9 284.9L959.3 396.7Z"/>
<path fill="#ffff52" d="M970.1 508.9L1288.2 508.9L1288.2 417.6L1278.2 415.9L1268.7 415.9L1259.1 413.8L1249.6 413.6L1240.1 411L1230.6 410.5L1221.1 407.7L1211.5 406.7L1202 402.8L1192.5 400.7L1184 396.7L1183 392.1L1173.5 371.1L1163.9 327L1154.4 303.8L1151.2 284.9L1154.4 250.8L1163.9 206.1L1167.5 173.2L1169.7 61L966.2 61L964 166.9L963.9 173.2L964 176.3L970.6 284.9L966.5 396.7Z"/>
<path fill="#ffff66" d="M979.3 508.9L1288.2 508.9L1288.2 427.8L1278.2 426.2L1268.7 426.2L1259.1 424.3L1249.6 424.2L1240.1 421.9L1230.6 421.5L1221.1 419L1211.5 418.1L1202 414.6L1192.5 412.9L1183 408.9L1173.5 407.1L1163.9 402.6L1154.4 400.4L1148.5 396.7L1144.9 377.1L1135.4 354.7L1125.9 297.2L1122.6 284.9L1125.9 265.9L1134.9 173.2L1135.4 170.4L1144.9 136.4L1151.3 61L971.7 61L970.6 173.2L973.5 218.5L981.7 284.9L974.5 396.7Z"/>
<path fill="#ffff7a" d="M988.4 508.9L1288.2 508.9L1288.2 438L1278.2 436.5L1268.7 436.6L1259.1 434.9L1249.6 434.9L1240.1 432.8L1230.6 432.5L1221.1 430.2L1211.5 429.6L1202 426.4L1192.5 425.2L1183 421.7L1173.5 420.6L1163.9 416.8L1154.4 415.4L1144.9 410.2L1135.4 408.6L1125.9 403.4L1116.3 401.3L1109 396.7L1106.8 381.8L1097.3 348.9L1090.7 284.9L1097.3 236.9L1106.8 180.5L1107.5 173.2L1116.3 137.3L1125.9 106.1L1132.6 61L978 61L979.6 173.2L983.1 202.5L992.6 275.6L994.9 284.9L992.6 305.1L985.8 396.7Z"/>
<path fill="#ffff8f" d="M998.1 508.9L1288.2 508.9L1288.2 448.2L1278.2 446.9L1268.7 447L1259.1 445.5L1249.6 445.5L1240.1 443.7L1230.6 443.5L1221.1 441.5L1211.5 441L1202 438.2L1192.5 437.4L1183 434.5L1173.5 434L1163.9 430.9L1154.4 430.4L1144.9 426.1L1135.4 425.4L1125.9 421.3L1116.3 420.4L1106.8 415.8L1097.3 414.6L1087.8 409.4L1078.3 408.5L1068.7 400.1L1059.2 397.8L1057.9 396.7L1049.9 284.9L1059.2 261.7L1068.7 249.8L1078.3 199.2L1084.2 173.2L1087.8 166.4L1097.3 132.1L1106.8 100.3L1114.3 61L984.6 61L990.1 173.2L992.6 192.9L1002.1 234.8L1011.6 278.2L1015.5 285L1011.6 362.6L1010.4 396.7L1002.1 446.6Z"/>
<path fill="#ffffa3" d="M1007.6 508.9L1288.2 508.9L1288.2 458.4L1278.2 457.2L1268.7 457.4L1259.1 456.1L1249.6 456.2L1240.1 454.5L1230.6 454.5L1221.1 452.7L1211.5 452.4L1202 450L1192.5 449.6L1183 447.3L1173.5 447.5L1163.9 445.1L1154.4 445.4L1144.9 442L1135.4 442.3L1125.9 439.3L1116.3 439.6L1106.8 436.4L1097.3 436.8L1087.8 433.5L1078.3 434.7L1068.7 429.1L1059.2 430.1L1049.7 425.6L1040.2 430.4L1030.7 430.1L1021.1 446.5L1011.6 472.3ZM1004.7 173.2L1011.6 208.5L1021.1 229.1L1030.7 239.6L1040.2 221.5L1049.7 209L1059.2 174.4L1059.7 173.2L1068.7 162.4L1078.3 136.7L1087.8 114.3L1097.3 69.6L1099.4 61L990.8 61L992.6 91.4L1002.1 158.7Z"/>
<path fill="#ffffb8" d="M1019.2 508.9L1288.2 508.9L1288.2 468.6L1278.2 467.6L1268.7 467.7L1259.1 466.6L1249.6 466.8L1240.1 465.4L1230.6 465.5L1221.1 463.9L1211.5 463.8L1202 461.8L1192.5 461.8L1183 460.1L1173.5 460.9L1163.9 459.3L1154.4 460.4L1144.9 457.9L1135.4 459.2L1125.9 457.3L1116.3 458.8L1106.8 456.9L1097.3 459L1087.8 457.5L1078.3 461L1068.7 458.1L1059.2 462.5L1049.7 462L1040.2 471.4L1030.7 476.4L1021.1 501.4ZM1028.8 173.2L1030.7 175.3L1031.6 173.2L1040.2 158.3L1049.7 148.4L1059.2 128.5L1068.7 116.7L1078.3 90.2L1087.8 62.1L1088 61L999.5 61L1002.1 82L1011.6 137.4L1021.1 163.6Z"/>
<path fill="#ffffcc" d="M1042.4 508.9L1288.2 508.9L1288.2 478.8L1278.2 477.9L1268.7 478.1L1259.1 477.2L1249.6 477.5L1240.1 476.3L1230.6 476.4L1221.1 475.2L1211.5 475.3L1202 473.5L1192.5 474L1183 472.9L1173.5 474.4L1163.9 473.5L1154.4 475.4L1144.9 473.8L1135.4 476.1L1125.9 475.2L1116.3 478L1106.8 477.5L1097.3 481.1L1087.8 481.6L1078.3 487.2L1068.7 487.1L1059.2 494.8L1049.7 498.4ZM1011 61L1011.6 64.7L1021.1 94.7L1030.7 116.5L1040.2 107.8L1049.7 101.9L1059.2 83.2L1068.7 70.9L1072.2 61Z"/>
<path fill="#ffffe0" d="M1083.6 508.9L1288.2 508.9L1288.2 489L1278.2 488.2L1268.7 488.5L1259.1 487.8L1249.6 488.1L1240.1 487.2L1230.6 487.4L1221.1 486.4L1211.5 486.7L1202 485.3L1192.5 486.2L1183 485.7L1173.5 487.8L1163.9 487.7L1154.4 490.5L1144.9 489.7L1135.4 492.9L1125.9 493.2L1116.3 497.2L1106.8 498.1L1097.3 503.3L1087.8 505.6Z"/>
<path fill="#fffff5" d="M1137.3 508.9L1288.2 508.9L1288.2 499.2L1278.2 498.6L1268.7 498.9L1259.1 498.3L1249.6 498.7L1240.1 498L1230.6 498.4L1221.1 497.7L1211.5 498.1L1202 497.1L1192.5 498.4L1183 498.4L1173.5 501.2L1163.9 501.9L1154.4 505.5L1144.9 505.5Z"/>
</g>
<rect x="1304.5" y="500" width="26.0" height="6" fill="#000000"/>
<rect x="1304.5" y="493" width="26.0" height="7" fill="#0b0000"/>
<rect x="1304.5" y="486" width="26.0" height="7" fill="#160000"/>
<rect x="1304.5" y="479" width="26.0" height="7" fill="#200000"/>
<rect x="1304.5" y="472" width="26.0" height="7" fill="#2b0000"/>
<rect x="1304.5" y="465" width="26.0" height="7" fill="#360000"/>
<rect x="1304.5" y="458" width="26.0" height="7" fill="#410000"/>
<rect x="1304.5" y="451" width="26.0" height="7" fill="#4c0000"/>
<rect x="1304.5" y="444" width="26.0" height="7" fill="#560000"/>
<rect x="1304.5" y="437" width="26.0" height="7" fill="#610000"/>
<rect x="1304.5" y="430" width="26.0" height="7" fill="#6c0000"/>
<rect x="1304.5" y="423" width="26.0" height="7" fill="#770000"/>
<rect x="1304.5" y="416" width="26.0" height="7" fill="#820000"/>
<rect x="1304.5" y="409" width="26.0" height="7" fill="#8c0000"/>
<rect x="1304.5" y="402" width="26.0" height="7" fill="#970000"/>
<rect x="1304.5" y="395" width="26.0" height="7" fill="#a20000"/>
<rect x="1304.5" y="388" width="26.0" height="7" fill="#ad0000"/>
<rect x="1304.5" y="381" width="26.0" height="7" fill="#b70000"/>
<rect x="1304.5" y="374" width="26.0" height="7" fill="#c20000"/>
<rect x="1304.5" y="367" width="26.0" height="7" fill="#cd0000"/>
<rect x="1304.5" y="360" width="26.0" height="7" fill="#d80000"/>
<rect x="1304.5" y="354" width="26.0" height="6" fill="#e30000"/>
<rect x="1304.5" y="347" width="26.0" height="7" fill="#ed0000"/>
<rect x="1304.5" y="340" width="26.0" height="7" fill="#f80000"/>
<rect x="1304.5" y="333" width="26.0" height="7" fill="#ff0400"/>
<rect x="1304.5" y="326" width="26.0" height="7" fill="#ff0f00"/>
<rect x="1304.5" y="319" width="26.0" height="7" fill="#ff1a00"/>
<rect x="1304.5" y="312" width="26.0" height="7" fill="#ff2400"/>
<rect x="1304.5" y="305" width="26.0" height="7" fill="#ff2f00"/>
<rect x="1304.5" y="298" width="26.0" height="7" fill="#ff3a00"/>
<rect x="1304.5" y="291" width="26.0" height="7" fill="#ff4500"/>
<rect x="1304.5" y="284" width="26.0" height="7" fill="#ff5000"/>
<rect x="1304.5" y="277" width="26.0" height="7" fill="#ff5a00"/>
<rect x="1304.5" y="270" width="26.0" height="7" fill="#ff6500"/>
<rect x="1304.5" y="263" width="26.0" height="7" fill="#ff7000"/>
<rect x="1304.5" y="256" width="26.0" height="7" fill="#ff7b00"/>
<rect x="1304.5" y="249" width="26.0" height="7" fill="#ff8600"/>
<rect x="1304.5" y="242" width="26.0" height="7" fill="#ff9000"/>
<rect x="1304.5" y="235" width="26.0" height="7" fill="#ff9b00"/>
<rect x="1304.5" y="228" width="26.0" height="7" fill="#ffa600"/>
<rect x="1304.5" y="221" width="26.0" height="7" fill="#ffb100"/>
<rect x="1304.5" y="214" width="26.0" height="7" fill="#ffbc00"/>
<rect x="1304.5" y="208" width="26.0" height="6" fill="#ffc600"/>
<rect x="1304.5" y="201" width="26.0" height="7" fill="#ffd100"/>
<rect x="1304.5" y="194" width="26.0" height="7" fill="#ffdc00"/>
<rect x="1304.5" y="187" width="26.0" height="7" fill="#ffe700"/>
<rect x="1304.5" y="180" width="26.0" height="7" fill="#fff200"/>
<rect x="1304.5" y="173" width="26.0" height="7" fill="#fffc00"/>
<rect x="1304.5" y="166" width="26.0" height="7" fill="#ffff0c"/>
<rect x="1304.5" y="159" width="26.0" height="7" fill="#ffff1c"/>
<rect x="1304.5" y="152" width="26.0" height="7" fill="#ffff2d"/>
<rect x="1304.5" y="145" width="26.0" height="7" fill="#ffff3d"/>
<rect x="1304.5" y="138" width="26.0" height="7" fill="#ffff4d"/>
<rect x="1304.5" y="131" width="26.0" height="7" fill="#ffff5d"/>
<rect x="1304.5" y="124" width="26.0" height="7" fill="#ffff6d"/>
<rect x="1304.5" y="117" width="26.0" height="7" fill="#ffff7d"/>
<rect x="1304.5" y="110" width="26.0" height="7" fill="#ffff8e"/>
<rect x="1304.5" y="103" width="26.0" height="7" fill="#ffff9e"/>
<rect x="1304.5" y="96" width="26.0" height="7" fill="#ffffae"/>
<rect x="1304.5" y="89" width="26.0" height="7" fill="#ffffbe"/>
<rect x="1304.5" y="82" width="26.0" height="7" fill="#ffffce"/>
<rect x="1304.5" y="75" width="26.0" height="7" fill="#ffffdf"/>
<rect x="1304.5" y="68" width="26.0" height="7" fill="#ffffef"/>
<rect x="1304.5" y="62" width="26.0" height="6" fill="#ffffff"/>
<rect x="1304.5" y="61.5" width="26.0" height="445.0" fill="none" stroke="#000" stroke-width="1"/>
<path d="M1304.5 94.5h3.5M1330.5 94.5h-3.5M1304.5 137.5h3.5M1330.5 137.5h-3.5M1304.5 181.5h3.5M1330.5 181.5h-3.5M1304.5 224.5h3.5M1330.5 224.5h-3.5M1304.5 267.5h3.5M1330.5 267.5h-3.5M1304.5 310.5h3.5M1330.5 310.5h-3.5M1304.5 353.5h3.5M1330.5 353.5h-3.5M1304.5 396.5h3.5M1330.5 396.5h-3.5M1304.5 440.5h3.5M1330.5 440.5h-3.5M1304.5 483.5h3.5M1330.5 483.5h-3.5" stroke="#000" stroke-width="1"/>
<text x="1365.00" y="150.70" text-anchor="middle" style="font-size:32px">0.5</text>
<text x="1365.00" y="235.00" text-anchor="middle" style="font-size:32px">0.4</text>
<text x="1365.00" y="320.50" text-anchor="middle" style="font-size:32px">0.3</text>
<text x="1365.00" y="406.80" text-anchor="middle" style="font-size:32px">0.2</text>
<text x="1365.00" y="492.80" text-anchor="middle" style="font-size:32px">0.1</text>
<text x="871.30" y="548.10" text-anchor="middle" style="font-size:32px">100</text>
<text x="941.30" y="548.10" text-anchor="middle" style="font-size:32px">200</text>
<text x="1011.30" y="548.10" text-anchor="middle" style="font-size:32px">300</text>
<text x="1081.30" y="548.10" text-anchor="middle" style="font-size:32px">400</text>
<text x="1151.30" y="548.10" text-anchor="middle" style="font-size:32px">500</text>
<text x="1221.30" y="548.10" text-anchor="middle" style="font-size:32px">600</text>
<text x="1291.30" y="548.10" text-anchor="middle" style="font-size:32px">700</text>
<text x="783.90" y="78.80" text-anchor="middle" style="font-size:32px">5</text>
<text x="783.90" y="187.80" text-anchor="middle" style="font-size:32px">4.5</text>
<text x="783.90" y="298.30" text-anchor="middle" style="font-size:32px">4</text>
<text x="783.90" y="409.30" text-anchor="middle" style="font-size:32px">3.5</text>
<text x="783.90" y="520.80" text-anchor="middle" style="font-size:32px">3</text>
<path d="M867.5 508.4v-5M867.5 61.5v5M937.5 508.4v-5M937.5 61.5v5M1007.5 508.4v-5M1007.5 61.5v5M1077.5 508.4v-5M1077.5 61.5v5M1147.5 508.4v-5M1147.5 61.5v5M1217.5 508.4v-5M1217.5 61.5v5M1287.5 508.4v-5M1287.5 61.5v5M811.7 61.5h5M811.7 173.5h5M811.7 285.0h5M811.7 397.5h5M811.7 508.4h5M1287.7 106.5h-5M1287.7 150.5h-5M1287.7 195.5h-5M1287.7 240.5h-5M1287.7 284.5h-5M1287.7 329.5h-5M1287.7 374.5h-5M1287.7 419.5h-5M1287.7 463.5h-5" stroke="#000" stroke-width="1" fill="none"/>
<g clip-path="url(#clb)">
<polyline points="879.2,61.5 872.2,173.2 867.3,284.9 862.4,396.7 858.2,508.4" fill="none" stroke="#fff" stroke-width="3.8" stroke-dasharray="13.6 7.6" stroke-dashoffset="3.6"/>
<circle cx="879.2" cy="61.5" r="5.7" fill="#fff"/>
<circle cx="872.2" cy="173.2" r="5.7" fill="#fff"/>
<circle cx="867.3" cy="284.9" r="5.7" fill="#fff"/>
<circle cx="862.4" cy="396.7" r="5.7" fill="#fff"/>
<circle cx="858.2" cy="508.4" r="5.7" fill="#fff"/>
</g>
<rect x="811.7" y="61.5" width="476.0" height="446.9" fill="none" stroke="#000" stroke-width="1"/>
<text x="1056.30" y="582.50" text-anchor="middle">channel thickness t<tspan font-size="22.6" dy="9">c</tspan><tspan dy="-9"> (nm)</tspan></text>
<text transform="translate(746.00 284.45) rotate(-90)" text-anchor="middle">P (μm)</text>
<text x="820.30" y="43.30">(b)</text>
<text x="1020.60" y="35.80">S</text>
<text x="1041.50" y="43.60" style="font-size:20.8px">R,max</text>
<text x="1108.20" y="35.80">(THz</text>
<text x="1178.50" y="15.20" style="font-size:20.8px">-1</text>
<text x="1198.00" y="35.80">)</text>
<g fill-rule="evenodd">
<rect x="1537.7" y="62" width="476.3" height="447.8" fill="#070000"/>
<path fill="#140000" d="M1539.1 509.8L2014 509.8L2014 62L1539.2 62L1539.1 174.2L1539.1 285.9L1539.2 397.6Z"/>
<path fill="#220000" d="M1540.6 509.8L2014 509.8L2014 62L1540.7 62L1540.5 174.2L1540.6 285.9L1540.6 397.6Z"/>
<path fill="#300000" d="M1542 509.8L2014 509.8L2014 62L1542.2 62L1541.9 174.2L1542 285.9L1542.1 397.6Z"/>
<path fill="#3d0000" d="M1543.4 509.8L2014 509.8L2014 62L1543.7 62L1543.4 174.2L1543.5 285.9L1543.5 397.6Z"/>
<path fill="#4b0000" d="M1544.9 509.8L1574.7 509.8L1576.2 456.6L1576.4 509.8L2014 509.8L2014 62L1545.1 62L1544.8 174.2L1544.9 285.9L1545 397.6Z"/>
<path fill="#580000" d="M1546.3 509.8L1564.1 509.8L1566.7 471.3L1572 397.6L1576.2 325.5L1578.2 397.6L1578.7 509.8L2014 509.8L2014 62L1546.6 62L1546.2 174.2L1546.4 285.9L1546.5 397.6Z"/>
<path fill="#660000" d="M1547.8 509.8L1559.8 509.8L1566.7 406.8L1567.4 397.6L1574.9 285.9L1576.2 271.4L1585.7 233.1L1586.5 285.9L1585.7 302.9L1580.3 397.6L1580.9 509.8L2014 509.8L2014 62L1548.2 62L1547.7 148.7L1547.6 174.2L1547.7 233.6L1547.9 285.9L1548.2 397.6Z"/>
<path fill="#740000" d="M1551.9 397.6L1557.2 484.8L1563.2 397.6L1566.7 364.5L1572.2 285.9L1576.2 242.5L1584.1 174.2L1585.7 100.3L1586.6 174.2L1588.1 285.9L1585.7 339.7L1582.4 397.6L1583.2 509.8L2014 509.8L2014 62L1550.1 62L1549.6 174.2L1550.6 285.9Z"/>
<path fill="#810000" d="M1555.6 397.6L1557.2 423.8L1559 397.6L1566.7 326L1569.5 285.9L1576.2 213.6L1580.8 174.2L1583.4 62L1552 62L1551.6 174.2L1553.2 285.9ZM1585.5 509.8L2014 509.8L2014 62L1588.1 62L1588.4 174.2L1589.7 285.9L1585.7 376.4L1584.5 397.6Z"/>
<path fill="#8f0000" d="M1587.8 509.8L2014 509.8L2014 62L1591.3 62L1590.2 174.2L1591.3 285.9L1586.7 397.6ZM1555.9 285.9L1557.2 338.1L1566.7 287.4L1566.8 285.9L1576.2 184.7L1577.4 174.2L1580.2 62L1553.9 62L1553.6 174.2Z"/>
<path fill="#9c0000" d="M1590.2 509.8L2014 509.8L2014 62L1594.5 62L1592 174.2L1592.9 285.9L1589 397.6ZM1555.7 174.2L1557.2 241.2L1566.7 238.4L1573.1 174.2L1576.2 95L1577.1 62L1555.8 62Z"/>
<path fill="#aa0000" d="M1592.5 509.8L2014 509.8L2014 62L1597 62L1595.2 116.6L1593.8 174.2L1594.6 285.9L1591.3 397.6ZM1561.6 174.2L1566.7 188.9L1568.2 174.2L1572.2 62L1559.1 62Z"/>
<path fill="#b80000" d="M1594.9 509.8L2014 509.8L2014 62L1599.1 62L1595.7 174.2L1596.6 285.9L1595.2 335.6L1593.6 397.6Z"/>
<path fill="#c50000" d="M1597.9 509.8L2014 509.8L2014 62L1601.3 62L1598.4 174.2L1598.8 285.9L1596 397.6Z"/>
<path fill="#d30000" d="M1601.1 509.8L2014 509.8L2014 62L1603.5 62L1601.1 174.2L1601.1 285.9L1598.7 397.6Z"/>
<path fill="#e00000" d="M1604.2 509.8L2014 509.8L2014 62L1606.1 62L1604.7 126.7L1603.9 174.2L1603.4 285.9L1601.4 397.6Z"/>
<path fill="#ee0000" d="M1604.2 397.6L1604.7 420.6L1607.3 509.8L2014 509.8L2014 62L1609 62L1606.3 174.2L1605.7 285.9L1604.7 357.8Z"/>
<path fill="#fc0000" d="M1610.4 509.8L2014 509.8L2014 62L1612 62L1608.7 174.2L1608.3 285.9L1606.9 397.6Z"/>
<path fill="#ff0a00" d="M1613.5 509.8L2014 509.8L2014 62L1614.9 62L1614.2 79.4L1611 174.2L1610.9 285.9L1609.6 397.6Z"/>
<path fill="#ff1800" d="M1612.3 397.6L1614.2 452.3L1616.2 509.8L2014 509.8L2014 62L1617.5 62L1614.2 148.9L1613.4 174.2L1613.5 285.9Z"/>
<path fill="#ff2500" d="M1618.8 509.8L2014 509.8L2014 475.2L2006.7 397.6L2014 371.1L2014 62L1620 62L1615.8 174.2L1615.9 285.9L1614.9 397.6Z"/>
<path fill="#ff3300" d="M1621.4 509.8L1993 509.8L1987.5 397.6L1994.5 374.7L2004 372.1L2014 333.5L2014 62L1622.6 62L1618.2 174.2L1618.3 285.9L1617.5 397.6ZM2003.1 509.8L2004.1 509.8L2004 508.3Z"/>
<path fill="#ff4100" d="M1620 397.6L1623.8 503.6L1624 509.8L1956 509.8L1956.5 489.6L1958.5 509.8L1967.5 509.8L1967.6 397.6L1975.5 373.3L1985 374.3L1994.5 341.6L2004 337.6L2014 296L2014 62L1625.1 62L1623.8 95.9L1620.7 174.2L1620.8 285.9Z"/>
<path fill="#ff4e00" d="M1622.5 397.6L1623.8 432.1L1627.1 509.8L1931.2 509.8L1937.5 404.7L1947 403.6L1947.2 397.6L1956.5 371.9L1966 372.7L1975.5 342.6L1985 343.2L1994.5 308.5L2004 303.1L2008.1 285.9L2014 239.3L2014 62L1627.5 62L1623.8 157.4L1623.1 174.2L1623.2 285.9Z"/>
<path fill="#ff5c00" d="M1630.2 509.8L1897.3 509.8L1899.4 492.9L1908.9 496.4L1918.4 398.2L1919.2 397.6L1927.9 396.1L1937.5 368.2L1947 368.6L1956.5 342.1L1966 343.1L1975.5 312L1985 312L1991.9 285.9L1994.5 264.3L2004 252.6L2014 175.4L2014 62L1629.9 62L1625.6 174.2L1625.7 285.9L1625.2 397.6Z"/>
<path fill="#ff6900" d="M1627.9 397.6L1874.2 509.8L1880.4 461L1889.9 467.1L1898 397.6L1899.4 393.6L1908.9 392.8L1918.4 366.8L1927.9 365.8L1937.5 337.9L1947 339L1956.5 312.2L1966 313.5L1974.2 285.9L1975.5 276L1985 274.8L1994.5 196.2L2004 186.1L2005.5 174.2L2014 124.8L2014 62L1632.3 62L1628.2 174.2L1628.2 285.9Z"/>
<path fill="#ff7700" d="M1630.6 397.6L1633.3 453.7L1638.1 509.8L1838.6 509.8L1842.4 494.7L1851.9 498L1861.4 449.2L1870.9 455.1L1877.7 397.6L1880.4 388.9L1889.9 389.7L1899.4 363.1L1908.9 362.2L1918.4 335.8L1927.9 335.4L1937.5 307.5L1947 309.3L1955.2 285.9L1956.5 278.9L1966 281.5L1975.5 209.5L1985 206.6L1988.9 174.2L1994.5 145.9L2004 137.7L2014 74.4L2014 62L1634.7 62L1633.3 103.8L1630.7 174.2L1630.7 285.9Z"/>
<path fill="#ff8500" d="M1633.3 397.6L1642.8 509.1L1642.9 509.8L1804.1 509.8L1804.4 508.7L1808.1 509.8L1814.5 509.8L1823.4 480.8L1832.9 480L1842.4 438.3L1851.9 436.7L1858.5 397.6L1861.4 389.8L1870.9 390.4L1880.4 359.4L1889.9 360.1L1899.4 332.6L1908.9 331.7L1918.4 304.9L1927.9 305.1L1934.5 285.9L1937.5 271.8L1947 274.7L1956.5 220.6L1966 218.7L1971.7 174.2L1975.5 156.3L1985 153.8L1994.5 104.1L2004 93.3L2008.8 62L1637.1 62L1633.3 174.2Z"/>
<path fill="#ff9200" d="M1636.2 397.6L1642.8 475.1L1649.8 509.8L1782.3 509.8L1785.4 502L1794.9 503.7L1804.4 469.2L1813.9 469.6L1823.4 434.3L1832.9 430L1839.5 397.6L1842.4 390.3L1851.9 387.7L1861.4 361.5L1870.9 361.9L1880.4 329.9L1889.9 330.5L1899.4 302.1L1908.9 301.1L1914.3 285.9L1918.4 270.1L1927.9 269.6L1937.5 222.9L1947 221.1L1954.7 174.2L1956.5 166.8L1966 163.5L1975.5 118L1985 115L1994.5 62.3L1994.7 62L1639.4 62L1635.8 174.2L1635.9 285.9Z"/>
<path fill="#ffa000" d="M1639.1 397.6L1642.8 441.1L1652.3 493.2L1656.5 509.8L1761.5 509.8L1766.3 497.2L1775.8 495.2L1785.4 468.9L1794.9 468.1L1804.4 429.7L1813.9 427.5L1821.2 397.6L1823.4 392.9L1832.9 389L1842.4 363.9L1851.9 360.4L1861.4 333.1L1870.9 333.3L1880.4 300.3L1889.9 300.9L1894.9 285.9L1899.4 269.9L1908.9 267.3L1918.4 229.5L1927.9 225L1937.4 174.2L1937.5 174L1947 169.9L1956.5 130.4L1966 126.8L1975.5 79.7L1985 76.2L1987.5 62L1641.8 62L1638.4 174.2L1638.5 285.9Z"/>
<path fill="#ffad00" d="M1642 397.6L1642.8 407L1652.3 467.8L1661.8 505.6L1664.5 509.8L1743.1 509.8L1747.3 500.7L1756.8 497.3L1766.3 471L1775.8 466L1785.4 435.8L1794.9 432.6L1802.9 397.6L1804.4 394.4L1813.9 392.2L1823.4 371L1832.9 364.5L1842.4 337.5L1851.9 333.2L1861.4 304.7L1870.9 304.7L1876.3 285.9L1880.4 272.1L1889.9 270.9L1899.4 235.8L1908.9 230.1L1918.4 188.8L1927.9 180.5L1929.1 174.2L1937.5 140.6L1947 135.4L1956.5 94L1966 90L1971.6 62L1644.3 62L1642.8 114.3L1641 174.2L1641.2 285.9Z"/>
<path fill="#ffbb00" d="M1645.5 397.6L1652.3 442.3L1661.8 483.5L1671.3 498.7L1675.5 509.8L1726.1 509.8L1728.3 504.9L1737.8 500.5L1747.3 479.5L1756.8 474.2L1766.3 444.8L1775.8 436.8L1785.4 402.8L1794 397.6L1794.9 397.4L1804.4 377.2L1813.9 373.4L1823.4 349.1L1832.9 340L1842.4 311.2L1851.9 305.9L1858.4 285.9L1861.4 278.4L1870.9 277.7L1880.4 245.2L1889.9 240.3L1899.4 201.7L1908.9 192.9L1913.1 174.2L1918.4 154.5L1927.9 147L1937.5 107.1L1947 100.9L1955.6 62L1646.8 62L1643.6 174.2L1643.9 285.9Z"/>
<path fill="#ffc900" d="M1649.4 397.6L1652.3 416.8L1661.8 461.4L1671.3 477.8L1680.8 503.2L1690.3 506.9L1691.9 509.8L1710.4 509.8L1718.8 506.6L1728.3 485.9L1737.8 480.8L1747.3 458.2L1756.8 451.1L1766.3 418.6L1775.8 407.6L1778.6 397.6L1785.4 384L1794.9 381L1804.4 360L1813.9 354.6L1823.4 327.1L1832.9 315.5L1842.1 285.9L1842.4 285L1851.9 280.3L1861.4 256.3L1870.9 253.7L1880.4 218.3L1889.9 209.8L1898.1 174.2L1899.4 168.6L1908.9 159.6L1918.4 123.6L1927.9 115.4L1937.5 73.7L1947 66.5L1947.9 62L1649.2 62L1646.5 174.2L1646.9 285.9Z"/>
<path fill="#ffd600" d="M1653.4 397.6L1661.8 439.3L1671.3 456.8L1680.8 482.8L1690.3 486.8L1699.8 503.4L1709.3 491.2L1718.8 488.2L1728.3 466.9L1737.8 461L1747.3 436.9L1756.8 428L1765.1 397.6L1766.3 394.3L1775.8 387L1785.4 368L1794.9 364.7L1804.4 342.7L1813.9 335.8L1823.4 305.2L1832.9 291L1834.5 285.9L1842.4 263.8L1851.9 259.1L1861.4 234.2L1870.9 229.6L1880.4 191.3L1889.9 179.3L1891.1 174.2L1899.4 139.4L1908.9 130L1918.4 92.8L1927.9 83.8L1932.8 62L1651.7 62L1649.4 174.2L1649.9 285.9L1652.3 371Z"/>
<path fill="#ffe400" d="M1657.8 397.6L1661.8 417.2L1671.3 435.8L1680.8 462.4L1690.3 466.7L1699.8 483.5L1709.3 472.2L1718.8 469.7L1728.3 447.9L1737.8 441.3L1747.3 415.6L1756.8 404.9L1758.8 397.6L1766.3 377.6L1775.9 370.9L1785.4 351.9L1794.9 348.4L1804.4 325.5L1813.9 317L1822.7 285.9L1823.4 283L1832.9 268.7L1842.4 242.7L1851.9 237.9L1861.4 212.1L1870.9 205.6L1878.3 174.2L1880.4 163.6L1889.9 150.3L1899.4 110.3L1908.9 100.5L1918.4 62L1654.1 62L1652.3 174.2L1653 285.9Z"/>
<path fill="#fff100" d="M1662.9 397.6L1671.3 414.9L1680.8 442L1690.3 446.6L1699.8 463.5L1709.3 453.1L1718.8 451.3L1728.3 428.9L1737.8 421.5L1746.2 397.6L1747.3 394.9L1756.8 386L1766.3 361L1775.8 354.8L1785.4 335.8L1794.9 332.1L1804.4 308.3L1813.9 298.2L1817.4 285.9L1823.4 259.5L1832.9 246.9L1842.4 221.5L1851.9 216.6L1861.4 190L1870.9 181.5L1872.6 174.2L1880.4 134.3L1889.9 121.5L1899.4 81.1L1908.9 71L1911.1 62L1656.4 62L1655.4 174.2L1656.2 285.9L1661.8 390.5Z"/>
<path fill="#ffff00" d="M1672.5 397.6L1680.8 421.6L1690.3 426.5L1699.8 443.6L1709.3 434.1L1718.8 432.8L1728.3 409.8L1737.8 401.7L1739.3 397.6L1747.3 377.6L1756.8 369L1766.3 344.3L1775.8 338.8L1785.4 319.7L1794.9 315.8L1804.4 291.1L1808.8 285.9L1813.9 276.9L1823.4 236.1L1832.9 225.2L1842.4 200.3L1851.9 195.4L1859.3 174.2L1861.4 165.9L1870.9 154.1L1880.4 105L1889.9 92.8L1897.1 62L1658.7 62L1658.4 174.2L1659.5 285.9L1661.8 328.5L1671.3 388.7Z"/>
<path fill="#ffff14" d="M1679.5 397.6L1680.8 401.2L1690.3 406.4L1699.8 423.7L1709.3 415.1L1718.8 414.4L1725.6 397.6L1728.3 390.7L1737.8 383.8L1747.3 360.3L1756.8 352.1L1766.3 327.7L1775.8 322.7L1785.4 303.6L1794.9 299.5L1800 285.9L1804.4 266.7L1813.9 250.6L1823.4 212.6L1832.9 203.5L1842.4 179.1L1851.9 174.2L1851.9 174.2L1861.4 137.1L1870.9 125.3L1880.4 75.8L1889.9 64.1L1890.4 62L1661.1 62L1661.5 174.2L1661.8 198.9L1664 285.9L1671.3 338.2Z"/>
<path fill="#ffff29" d="M1696.4 397.6L1699.8 403.8L1707.4 397.6L1709.3 395.3L1718.8 395.5L1728.3 371.4L1737.8 366.3L1747.3 343.1L1756.8 335.1L1766.3 311.1L1775.8 306.6L1785.4 287.6L1789 285.9L1794.9 281.5L1804.4 239.2L1813.9 224.4L1823.4 189.1L1832.9 181.7L1835.8 174.2L1842.4 154.2L1851.9 146.8L1861.4 108.3L1870.9 96.5L1877.5 62L1664.1 62L1666.8 174.2L1671 285.9L1671.3 287.8L1680.8 363.5L1690.3 375.8Z"/>
<path fill="#ffff3d" d="M1676.3 285.9L1680.8 321.9L1690.3 337.1L1699.8 374.7L1709.3 366.9L1718.8 372.7L1728.3 352L1737.8 348.8L1747.3 325.8L1756.8 318.2L1766.3 294.4L1775.8 290.5L1778.2 285.9L1785.4 262.8L1794.9 254.6L1804.4 211.6L1813.9 198.1L1820.7 174.2L1823.4 165.8L1832.9 158.5L1842.4 128.2L1851.9 119.4L1861.4 79.4L1870.9 67.7L1872 62L1667.4 62L1671.3 157.6L1672.1 174.2Z"/>
<path fill="#ffff52" d="M1683.6 285.9L1690.3 298.3L1699.8 341.5L1709.3 338.5L1718.8 349.9L1728.3 332.6L1737.8 331.3L1747.3 308.5L1756.8 301.2L1763 285.9L1766.3 275L1775.8 268.8L1785.4 237L1794.9 227.8L1804.4 184.1L1812 174.2L1813.9 172.2L1823.4 142.6L1832.9 134.5L1842.4 102.2L1851.9 91.9L1858.9 62L1670.7 62L1671.3 75.8L1676.3 174.2L1680.8 273.6Z"/>
<path fill="#ffff66" d="M1695.1 285.9L1699.8 308.2L1709.3 310.1L1718.8 327.2L1728.3 313.3L1737.8 313.8L1747.3 291.2L1754.5 285.9L1756.8 283.8L1766.3 252.6L1775.9 244.7L1785.4 211.2L1794.9 200.9L1800.7 174.2L1804.4 159.4L1813.9 149.6L1823.4 119.5L1832.9 110.4L1842.4 76.2L1851.9 64.5L1852.5 62L1673.7 62L1680.5 174.2L1680.8 180.8L1690.3 245.2Z"/>
<path fill="#ffff7a" d="M1710.8 285.9L1718.8 304.4L1728.3 293.9L1737.8 296.4L1742.2 285.9L1747.3 270L1756.8 261.9L1766.3 230.2L1775.8 220.7L1785.4 185.4L1794.8 174.2L1794.9 174.1L1804.4 136.1L1813.9 127L1823.4 96.4L1832.9 86.4L1839.4 62L1676.5 62L1680.8 131.1L1688.7 174.2L1690.3 185.2L1699.8 271.1L1709.3 280.3Z"/>
<path fill="#ffff8f" d="M1694.2 174.2L1699.8 226.1L1709.3 242.4L1718.8 280L1728.3 270.6L1737.8 276.2L1747.3 247.1L1756.8 240L1766.3 207.9L1775.8 196.6L1781.8 174.2L1785.4 160.2L1794.9 150.5L1804.4 112.9L1813.9 104.4L1823.4 73.3L1832.9 62.3L1833 62L1679.4 62L1680.8 84.6L1690.3 145Z"/>
<path fill="#ffffa3" d="M1699.1 174.2L1699.8 181.1L1709.3 204.5L1718.8 248.9L1728.3 244.5L1737.8 252L1747.3 224.2L1756.8 218.2L1766.3 185.5L1774.7 174.2L1775.8 172.5L1785.4 135.6L1794.9 126.9L1804.4 89.7L1813.9 81.8L1819.9 62L1683.4 62L1690.3 109.3Z"/>
<path fill="#ffffb8" d="M1710.5 174.2L1718.8 217.8L1728.3 218.4L1737.8 227.8L1747.3 201.2L1756.8 196.3L1763.2 174.2L1766.3 160.6L1775.8 147.3L1785.4 110.9L1794.9 103.3L1804.4 66.5L1810.2 62L1688.6 62L1690.3 73.5L1699.8 146.5L1709.3 167.2Z"/>
<path fill="#ffffcc" d="M1716.4 174.2L1718.8 186.7L1728.3 192.3L1737.8 203.6L1747.3 178.3L1756.8 174.5L1756.9 174.2L1766.3 133.1L1775.8 122L1785.4 86.2L1794.9 79.7L1799.4 62L1693.1 62L1699.8 113.9L1709.3 132.6Z"/>
<path fill="#ffffe0" d="M1733.9 174.2L1737.8 179.4L1739.8 174.2L1747.3 139L1756.8 137.1L1766.3 105.6L1775.8 96.8L1785.2 62L1697.3 62L1699.8 81.2L1709.3 97.9L1718.8 148.4L1728.3 157Z"/>
<path fill="#fffff5" d="M1708.5 62L1709.3 63.3L1718.8 105.2L1728.3 101L1737.8 124.9L1747.3 96.2L1756.8 99.6L1766.3 78.1L1775.8 71.6L1778.4 62Z"/>
</g>
<rect x="2030.5" y="500" width="26.0" height="7" fill="#000000"/>
<rect x="2030.5" y="493" width="26.0" height="7" fill="#0b0000"/>
<rect x="2030.5" y="486" width="26.0" height="7" fill="#160000"/>
<rect x="2030.5" y="479" width="26.0" height="7" fill="#200000"/>
<rect x="2030.5" y="472" width="26.0" height="7" fill="#2b0000"/>
<rect x="2030.5" y="465" width="26.0" height="7" fill="#360000"/>
<rect x="2030.5" y="458" width="26.0" height="7" fill="#410000"/>
<rect x="2030.5" y="451" width="26.0" height="7" fill="#4c0000"/>
<rect x="2030.5" y="444" width="26.0" height="7" fill="#560000"/>
<rect x="2030.5" y="438" width="26.0" height="6" fill="#610000"/>
<rect x="2030.5" y="431" width="26.0" height="7" fill="#6c0000"/>
<rect x="2030.5" y="424" width="26.0" height="7" fill="#770000"/>
<rect x="2030.5" y="417" width="26.0" height="7" fill="#820000"/>
<rect x="2030.5" y="410" width="26.0" height="7" fill="#8c0000"/>
<rect x="2030.5" y="403" width="26.0" height="7" fill="#970000"/>
<rect x="2030.5" y="396" width="26.0" height="7" fill="#a20000"/>
<rect x="2030.5" y="389" width="26.0" height="7" fill="#ad0000"/>
<rect x="2030.5" y="382" width="26.0" height="7" fill="#b70000"/>
<rect x="2030.5" y="375" width="26.0" height="7" fill="#c20000"/>
<rect x="2030.5" y="368" width="26.0" height="7" fill="#cd0000"/>
<rect x="2030.5" y="361" width="26.0" height="7" fill="#d80000"/>
<rect x="2030.5" y="354" width="26.0" height="7" fill="#e30000"/>
<rect x="2030.5" y="347" width="26.0" height="7" fill="#ed0000"/>
<rect x="2030.5" y="340" width="26.0" height="7" fill="#f80000"/>
<rect x="2030.5" y="333" width="26.0" height="7" fill="#ff0400"/>
<rect x="2030.5" y="326" width="26.0" height="7" fill="#ff0f00"/>
<rect x="2030.5" y="319" width="26.0" height="7" fill="#ff1a00"/>
<rect x="2030.5" y="313" width="26.0" height="6" fill="#ff2400"/>
<rect x="2030.5" y="306" width="26.0" height="7" fill="#ff2f00"/>
<rect x="2030.5" y="299" width="26.0" height="7" fill="#ff3a00"/>
<rect x="2030.5" y="292" width="26.0" height="7" fill="#ff4500"/>
<rect x="2030.5" y="285" width="26.0" height="7" fill="#ff5000"/>
<rect x="2030.5" y="278" width="26.0" height="7" fill="#ff5a00"/>
<rect x="2030.5" y="271" width="26.0" height="7" fill="#ff6500"/>
<rect x="2030.5" y="264" width="26.0" height="7" fill="#ff7000"/>
<rect x="2030.5" y="257" width="26.0" height="7" fill="#ff7b00"/>
<rect x="2030.5" y="250" width="26.0" height="7" fill="#ff8600"/>
<rect x="2030.5" y="243" width="26.0" height="7" fill="#ff9000"/>
<rect x="2030.5" y="236" width="26.0" height="7" fill="#ff9b00"/>
<rect x="2030.5" y="229" width="26.0" height="7" fill="#ffa600"/>
<rect x="2030.5" y="222" width="26.0" height="7" fill="#ffb100"/>
<rect x="2030.5" y="215" width="26.0" height="7" fill="#ffbc00"/>
<rect x="2030.5" y="208" width="26.0" height="7" fill="#ffc600"/>
<rect x="2030.5" y="201" width="26.0" height="7" fill="#ffd100"/>
<rect x="2030.5" y="194" width="26.0" height="7" fill="#ffdc00"/>
<rect x="2030.5" y="188" width="26.0" height="6" fill="#ffe700"/>
<rect x="2030.5" y="181" width="26.0" height="7" fill="#fff200"/>
<rect x="2030.5" y="174" width="26.0" height="7" fill="#fffc00"/>
<rect x="2030.5" y="167" width="26.0" height="7" fill="#ffff0c"/>
<rect x="2030.5" y="160" width="26.0" height="7" fill="#ffff1c"/>
<rect x="2030.5" y="153" width="26.0" height="7" fill="#ffff2d"/>
<rect x="2030.5" y="146" width="26.0" height="7" fill="#ffff3d"/>
<rect x="2030.5" y="139" width="26.0" height="7" fill="#ffff4d"/>
<rect x="2030.5" y="132" width="26.0" height="7" fill="#ffff5d"/>
<rect x="2030.5" y="125" width="26.0" height="7" fill="#ffff6d"/>
<rect x="2030.5" y="118" width="26.0" height="7" fill="#ffff7d"/>
<rect x="2030.5" y="111" width="26.0" height="7" fill="#ffff8e"/>
<rect x="2030.5" y="104" width="26.0" height="7" fill="#ffff9e"/>
<rect x="2030.5" y="97" width="26.0" height="7" fill="#ffffae"/>
<rect x="2030.5" y="90" width="26.0" height="7" fill="#ffffbe"/>
<rect x="2030.5" y="83" width="26.0" height="7" fill="#ffffce"/>
<rect x="2030.5" y="76" width="26.0" height="7" fill="#ffffdf"/>
<rect x="2030.5" y="69" width="26.0" height="7" fill="#ffffef"/>
<rect x="2030.5" y="62" width="26.0" height="7" fill="#ffffff"/>
<rect x="2030.5" y="62.5" width="26.0" height="444.5" fill="none" stroke="#000" stroke-width="1"/>
<path d="M2030.5 98.5h3.5M2056.5 98.5h-3.5M2030.5 141.5h3.5M2056.5 141.5h-3.5M2030.5 184.5h3.5M2056.5 184.5h-3.5M2030.5 227.5h3.5M2056.5 227.5h-3.5M2030.5 270.5h3.5M2056.5 270.5h-3.5M2030.5 313.5h3.5M2056.5 313.5h-3.5M2030.5 356.5h3.5M2056.5 356.5h-3.5M2030.5 399.5h3.5M2056.5 399.5h-3.5M2030.5 443.5h3.5M2056.5 443.5h-3.5M2030.5 486.5h3.5M2056.5 486.5h-3.5" stroke="#000" stroke-width="1"/>
<text x="2083.20" y="152.30" text-anchor="middle" style="font-size:32px">10</text>
<text x="2086.00" y="238.10" text-anchor="middle" style="font-size:32px">8</text>
<text x="2086.00" y="324.20" text-anchor="middle" style="font-size:32px">6</text>
<text x="2086.00" y="409.60" text-anchor="middle" style="font-size:32px">4</text>
<text x="2086.00" y="494.10" text-anchor="middle" style="font-size:32px">2</text>
<text x="1598.20" y="548.90" text-anchor="middle" style="font-size:32px">100</text>
<text x="1668.20" y="548.90" text-anchor="middle" style="font-size:32px">200</text>
<text x="1737.20" y="548.90" text-anchor="middle" style="font-size:32px">300</text>
<text x="1807.20" y="548.90" text-anchor="middle" style="font-size:32px">400</text>
<text x="1877.20" y="548.90" text-anchor="middle" style="font-size:32px">500</text>
<text x="1947.20" y="548.90" text-anchor="middle" style="font-size:32px">600</text>
<text x="2017.20" y="548.90" text-anchor="middle" style="font-size:32px">700</text>
<text x="1511.30" y="78.50" text-anchor="middle" style="font-size:32px">5</text>
<text x="1511.30" y="187.50" text-anchor="middle" style="font-size:32px">4.5</text>
<text x="1511.30" y="298.00" text-anchor="middle" style="font-size:32px">4</text>
<text x="1511.30" y="409.00" text-anchor="middle" style="font-size:32px">3.5</text>
<text x="1511.30" y="520.50" text-anchor="middle" style="font-size:32px">3</text>
<path d="M1594.5 509.3v-5M1594.5 62.5v5M1664.5 509.3v-5M1664.5 62.5v5M1733.5 509.3v-5M1733.5 62.5v5M1803.5 509.3v-5M1803.5 62.5v5M1873.5 509.3v-5M1873.5 62.5v5M1943.5 509.3v-5M1943.5 62.5v5M2013.5 509.3v-5M2013.5 62.5v5M1538.2 62.5h5M1538.2 174.5h5M1538.2 286.0h5M1538.2 398.5h5M1538.2 509.3h5M2013.5 107.5h-5M2013.5 151.5h-5M2013.5 196.5h-5M2013.5 241.5h-5M2013.5 285.5h-5M2013.5 330.5h-5M2013.5 375.5h-5M2013.5 419.5h-5M2013.5 464.5h-5" stroke="#000" stroke-width="1" fill="none"/>
<g clip-path="url(#clc)">
<polyline points="1604.9,62.5 1597.9,174.2 1593.0,285.9 1588.1,397.6 1583.9,509.3" fill="none" stroke="#fff" stroke-width="3.8" stroke-dasharray="13.6 7.6" stroke-dashoffset="3.6"/>
<circle cx="1604.9" cy="62.5" r="5.7" fill="#fff"/>
<circle cx="1597.9" cy="174.2" r="5.7" fill="#fff"/>
<circle cx="1593.0" cy="285.9" r="5.7" fill="#fff"/>
<circle cx="1588.1" cy="397.6" r="5.7" fill="#fff"/>
<circle cx="1583.9" cy="509.3" r="5.7" fill="#fff"/>
</g>
<rect x="1538.2" y="62.5" width="475.3" height="446.8" fill="none" stroke="#000" stroke-width="1"/>
<text x="1781.80" y="584.60" text-anchor="middle">channel thickness t<tspan font-size="22.6" dy="9">c</tspan><tspan dy="-9"> (nm)</tspan></text>
<text transform="translate(1472.60 285.40) rotate(-90)" text-anchor="middle">P (μm)</text>
<text x="1541.50" y="43.40">(c)</text>
<text x="1723.00" y="40.60">S</text>
<text x="1744.40" y="48.60" style="font-size:20.8px">max</text>
<text x="1789.00" y="40.60">(RIU</text>
<text x="1855.50" y="19.80" style="font-size:20.8px">-1</text>
<text x="1876.00" y="40.60">)</text>
</svg></body></html>
